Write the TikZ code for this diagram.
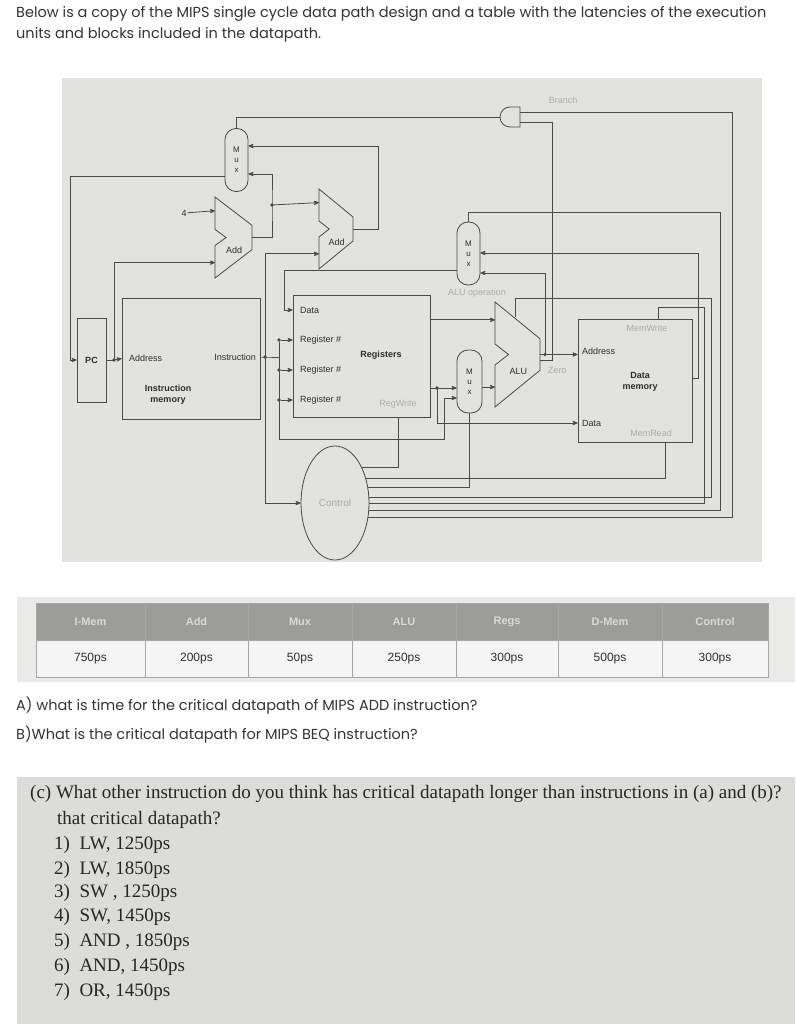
\documentclass[tikz,border=0pt]{standalone}
\usepackage{fontspec}
\setmainfont{Poppins}
\newfontfamily\diagfont{Liberation Sans}
\newfontfamily\bookfont{Liberation Serif}
\usetikzlibrary{shapes.geometric,arrows,positioning,calc}

\definecolor{photo}{HTML}{E2E2DF}
\definecolor{wirec}{HTML}{4A4A4A}
\definecolor{inkc}{HTML}{2E2E2E}
\definecolor{textc}{HTML}{333333}
\definecolor{tablebg}{HTML}{EAEAE8}
\definecolor{headc}{HTML}{9C9C9A}
\definecolor{pagebg}{HTML}{DCDCD9}

% adder / ALU outline: name, x, y, width, height, label
\newcommand{\adder}[6]{%
  \begin{scope}[shift={(#2,#3)}]
    \draw[unit] (0,0) -- (#4,0.35*#5) -- (#4,0.65*#5) -- (0,#5) -- (0,0.6*#5)
      -- (0.3*#4,0.5*#5) -- (0,0.4*#5) -- cycle;
    \coordinate (#1-in1) at (0,0.17*#5);
    \coordinate (#1-in2) at (0,0.81*#5);
    \coordinate (#1-out) at (#4,0.5*#5);
    \coordinate (#1-zero) at (#4,0.56*#5);
    \coordinate (#1-op) at (0.45*#4,0.14*#5);
    \node[lbl] (#1) at (0.52*#4,0.66*#5) {#6};
  \end{scope}}

\begin{document}
\begin{tikzpicture}
[x=1pt,y=-1pt,>=stealth',
 wire/.style={draw=wirec,line width=0.8pt},
 unit/.style={draw=wirec,line width=0.8pt,fill=photo},
 mux/.style={unit,rounded corners=11pt,minimum width=23pt,minimum height=63pt,inner sep=0pt,
   align=center,text=inkc,font=\diagfont\fontsize{8}{10}\selectfont},
 lbl/.style={font=\diagfont\fontsize{9}{10}\selectfont,text=inkc,inner sep=1pt},
 blbl/.style={lbl,font=\diagfont\bfseries\fontsize{9}{11}\selectfont},
 ctl/.style={lbl,text=gray!65},
 dot/.style={circle,fill=wirec,inner sep=1.4pt},
 head/.style={fill=headc,draw=gray!70,text=gray!30,font=\diagfont\bfseries\fontsize{11}{12}\selectfont},
 cell/.style={fill=gray!8,draw=gray!70,text=inkc,font=\diagfont\fontsize{12}{13}\selectfont},
 ask/.style={anchor=west,inner sep=0,text=textc,font=\fontsize{14.5}{16}\selectfont},
 book/.style={anchor=west,inner sep=0,text=black!85,font=\bookfont\fontsize{19}{21}\selectfont}]

  \useasboundingbox (0,0) rectangle (795,1024);
  \fill[white] (0,0) rectangle (795,1024);
  \fill[photo] (62,78) rectangle (762,562);
  \fill[tablebg] (17,597) rectangle (795,682);
  \fill[pagebg] (17,777) rectangle (795,1024);

  \node[anchor=north west,inner sep=0,align=left,text=textc,font=\fontsize{14.5}{21}\selectfont]
    (title) at (16,6) {Below is a copy of the MIPS single cycle data path design and a table with the latencies of the execution\\units and blocks included in the datapath.};

  % blocks
  \node[unit,minimum width=29,minimum height=84,inner sep=0,blbl] (pc) at (91.5,360) {PC};
  \node[unit,minimum width=138,minimum height=121] (imem) at (191,358.5) {};
  \node[unit,minimum width=137,minimum height=122] (regs) at (361.5,356) {};
  \node[unit,minimum width=114,minimum height=123] (dmem) at (635,380.5) {};
  \node[unit,ellipse,minimum width=68,minimum height=114] (ctrl) at (335,503) {};
  \node[ctl,font=\diagfont\fontsize{10}{11}\selectfont] (ctrllbl) at (ctrl) {Control};

  \node[mux] (topmux) at (236.5,160) {M\\u\\x};
  \node[mux] (wbmux) at (468.5,253.5) {M\\u\\x};
  \node[mux,minimum width=25] (alumux) at (469.5,381.5) {M\\u\\x};

  \adder{add1}{215}{197}{37}{81}{Add}
  \adder{add2}{319}{189}{34}{80}{Add}
  \adder{alu}{495}{302}{45}{105}{ALU}

  \node[inner sep=0,minimum size=20] (andg) at (510,117) {};
  \draw[unit] (520,107) -- (510,107) arc[start angle=90,end angle=270,radius=10pt] -- (520,127) -- cycle;

  % texts in blocks
  \node[lbl,anchor=west] (imaddr) at (128,358) {Address};
  \node[lbl,anchor=east] (imins) at (257,357) {Instruction};
  \node[blbl,align=center] (imname) at (168,395) {Instruction\\memory};
  \node[lbl,anchor=west] (rdata) at (299,310) {Data};
  \node[lbl,anchor=west] (rra) at (299,340) {Register \#};
  \node[lbl,anchor=west] (rrb) at (299,370) {Register \#};
  \node[lbl,anchor=west] (rrc) at (299,400) {Register \#};
  \node[blbl] (rname) at (381,355) {Registers};
  \node[ctl] (regwr) at (398,404) {RegWrite};
  \node[lbl,anchor=west] (daddr) at (581,351) {Address};
  \node[blbl,align=center] (dname) at (640,382) {Data\\memory};
  \node[lbl,anchor=west] (ddata) at (581,423) {Data};
  \node[ctl] (memwr) at (647,328) {MemWrite};
  \node[ctl] (memrd) at (651,433) {MemRead};
  \node[ctl] (aluop) at (477,293) {ALU operation};
  \node[ctl] (zero) at (557,370) {Zero};
  \node[ctl] (branch) at (563,100) {Branch};
  \node[lbl] (four) at (184,213) {4};

  % PC and next address
  \coordinate (pcsplit) at (114,360);
  \coordinate (incsplit) at (272,205);
  \draw[wire] (pc.east) -- (pcsplit);
  \draw[wire,->] (pcsplit) -- (imem.west);
  \draw[wire,->] (pcsplit) |- (add1-in2);
  \draw[wire,->] (four) -- (add1-in1);
  \draw[wire,->] (add1-out) -| (incsplit) |- ([yshift=-14pt]topmux.east);
  \draw[wire,->] (incsplit) -- (add2-in1);
  \draw[wire,->] (add2-out) -| (378,146) -- ([yshift=14pt]topmux.east);
  \draw[wire,->] ([yshift=-16pt]topmux.west) -| ([xshift=-6pt]pc.west) -- (pc.west);
  \draw[wire] (andg.west) -| (topmux.north);
  \node[dot] at (pcsplit) {};
  \node[dot] at (incsplit) {};

  % instruction fields
  \coordinate (inssplit) at (265,357);
  \draw[wire] (imem.east |- inssplit) -- (inssplit) -- (279,357);
  \draw[wire,->] (inssplit) |- (add2-in2);
  \draw[wire,->] (inssplit) |- (ctrl.west);
  \node[dot] at (inssplit) {};
  \foreach \ry/\nm in {340/ra,370/rb,400/rc}{
    \node[dot] (\nm) at (279,\ry) {};
    \draw[wire,->] (\nm) -- (\nm -| regs.west);
  }
  \draw[wire,->] (ra) -- (279,439) -| (444,398) -- (alumux.west |- 0,398);

  % register outputs
  \coordinate (rdsplit) at (437,388);
  \draw[wire,->] (regs.east |- alu-in1) -- (alu-in1);
  \draw[wire,->] (regs.east |- rdsplit) -- (alumux.west |- rdsplit);
  \draw[wire,->] (rdsplit) |- (dmem.west |- ddata);
  \node[dot] at (rdsplit) {};
  \draw[wire,->] (alumux.east |- alu-in2) -- (alu-in2);

  % ALU result and write back
  \coordinate (alusplit) at (545,354.5);
  \draw[wire] (alu-out) -- (alusplit);
  \draw[wire,->] (alusplit) -- (dmem.west |- alusplit);
  \draw[wire,->] (alusplit) |- (wbmux.east |- 0,273);
  \node[dot] at (alusplit) {};
  \draw[wire] (alu-zero) -- ++(12,0) |- ([yshift=-5pt]andg.east);
  \draw[wire,->] (dmem.east |- 0,378) -| (698,253) -- (wbmux.east |- 0,253);
  \draw[wire,->] (wbmux.west |- 0,270) -| (284,310) -- (regs.west |- rdata);

  % control lines
  \draw[wire] (ctrl.53) -| ([xshift=37pt]regs.south);
  \draw[wire] (ctrl.39) -| ([xshift=30pt]dmem.south);
  \draw[wire] (ctrl.25) -| (alumux.south);
  \draw[wire] (ctrl.10) -| (711,298) -| (alu-op);
  \draw[wire] (ctrl.0) -| (704,307) -| ([xshift=23pt]dmem.north);
  \draw[wire] (ctrl.-12) -| (720,212) -| (wbmux.north);
  \draw[wire] (ctrl.-23) -| (732,112) -- ([yshift=5pt]andg.east);

  % latency table
  \foreach \xa/\xb/\hd/\vl in {36/145/I-Mem/750ps,145/248/Add/200ps,248/352/Mux/50ps,
      352/456/ALU/250ps,456/558/Regs/300ps,558/662/D-Mem/500ps,662/768/Control/300ps}{
    \node[head,minimum width=\xb-\xa,minimum height=37,inner sep=0] (h\hd) at ({(\xa+\xb)/2},621.5) {\hd};
    \node[cell,minimum width=\xb-\xa,minimum height=37,inner sep=0] (v\hd) at ({(\xa+\xb)/2},658.5) {\vl};
  }

  \node[ask] (qa) at (16,706) {A) what is time for the critical datapath of MIPS ADD instruction?};
  \node[ask] (qb) at (16,735) {B)What is the critical datapath for MIPS BEQ instruction?};

  % textbook question
  \node[book] (qc) at (30,794) {(c) What other instruction do you think has critical datapath longer than instructions in (a) and (b)?};
  \node[book] (qc2) at (57,820) {that critical datapath?};
  \foreach \yy/\it in {845/{1)\ \ LW, 1250ps},870/{2)\ \ LW, 1850ps},893/{3)\ \ SW , 1250ps},
      917/{4)\ \ SW, 1450ps},942/{5)\ \ AND , 1850ps},967/{6)\ \ AND, 1450ps},992/{7)\ \ OR, 1450ps}}{
    \node[book] at (54,\yy) {\it};
  }
\end{tikzpicture}
\end{document}
